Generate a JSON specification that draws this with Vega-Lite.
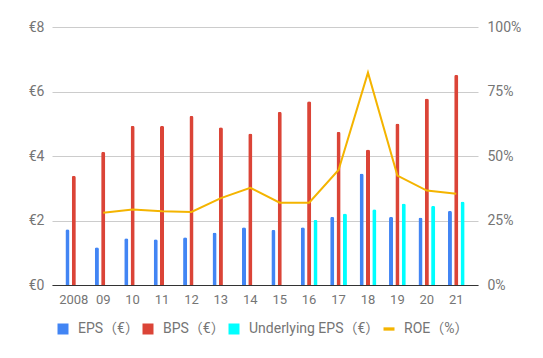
{
  "$schema": "https://vega.github.io/schema/vega-lite/v6.json",
  "width": 426,
  "height": 258,
  "autosize": {"type": "none"},
  "padding": {"left": 52, "top": 27, "right": 65, "bottom": 73},
  "config": {
    "view": {"stroke": null},
    "font": "Roboto",
    "axis": {"labelFont": "Roboto", "labelColor": "#757575", "labelFontSize": 14, "ticks": false, "domain": false, "gridColor": "#cccccc", "title": null}
  },
  "data": {"values": [
    {"year": "2008", "series": "EPS（€）", "value": 1.73},
    {"year": "2008", "series": "BPS（€）", "value": 3.39},
    {"year": "09", "series": "EPS（€）", "value": 1.17},
    {"year": "09", "series": "BPS（€）", "value": 4.13},
    {"year": "09", "series": "ROE（%）", "value": 28.0},
    {"year": "10", "series": "EPS（€）", "value": 1.45},
    {"year": "10", "series": "BPS（€）", "value": 4.94},
    {"year": "10", "series": "ROE（%）", "value": 29.3},
    {"year": "11", "series": "EPS（€）", "value": 1.42},
    {"year": "11", "series": "BPS（€）", "value": 4.94},
    {"year": "11", "series": "ROE（%）", "value": 28.6},
    {"year": "12", "series": "EPS（€）", "value": 1.48},
    {"year": "12", "series": "BPS（€）", "value": 5.25},
    {"year": "12", "series": "ROE（%）", "value": 28.3},
    {"year": "13", "series": "EPS（€）", "value": 1.63},
    {"year": "13", "series": "BPS（€）", "value": 4.89},
    {"year": "13", "series": "ROE（%）", "value": 33.7},
    {"year": "14", "series": "EPS（€）", "value": 1.79},
    {"year": "14", "series": "BPS（€）", "value": 4.70},
    {"year": "14", "series": "ROE（%）", "value": 37.7},
    {"year": "15", "series": "EPS（€）", "value": 1.71},
    {"year": "15", "series": "BPS（€）", "value": 5.37},
    {"year": "15", "series": "ROE（%）", "value": 31.9},
    {"year": "16", "series": "EPS（€）", "value": 1.79},
    {"year": "16", "series": "BPS（€）", "value": 5.70},
    {"year": "16", "series": "Underlying EPS（€）", "value": 2.02},
    {"year": "16", "series": "ROE（%）", "value": 31.9},
    {"year": "17", "series": "EPS（€）", "value": 2.12},
    {"year": "17", "series": "BPS（€）", "value": 4.75},
    {"year": "17", "series": "Underlying EPS（€）", "value": 2.22},
    {"year": "17", "series": "ROE（%）", "value": 44.6},
    {"year": "18", "series": "EPS（€）", "value": 3.46},
    {"year": "18", "series": "BPS（€）", "value": 4.20},
    {"year": "18", "series": "Underlying EPS（€）", "value": 2.35},
    {"year": "18", "series": "ROE（%）", "value": 82.3},
    {"year": "19", "series": "EPS（€）", "value": 2.12},
    {"year": "19", "series": "BPS（€）", "value": 5.01},
    {"year": "19", "series": "Underlying EPS（€）", "value": 2.53},
    {"year": "19", "series": "ROE（%）", "value": 42.4},
    {"year": "20", "series": "EPS（€）", "value": 2.09},
    {"year": "20", "series": "BPS（€）", "value": 5.78},
    {"year": "20", "series": "Underlying EPS（€）", "value": 2.46},
    {"year": "20", "series": "ROE（%）", "value": 36.6},
    {"year": "21", "series": "EPS（€）", "value": 2.30},
    {"year": "21", "series": "BPS（€）", "value": 6.52},
    {"year": "21", "series": "Underlying EPS（€）", "value": 2.59},
    {"year": "21", "series": "ROE（%）", "value": 35.4}
  ]},
  "encoding": {
    "x": {
      "field": "year", "type": "nominal",
      "scale": {"domain": ["2008","09","10","11","12","13","14","15","16","17","18","19","20","21"], "paddingInner": 0, "paddingOuter": 0.24},
      "axis": {"labelAngle": 0, "domain": true, "domainColor": "#333333", "labelPadding": 8, "labelFontSize": 13, "grid": false}
    }
  },
  "layer": [
    {
      "transform": [{"filter": "datum.series !== 'ROE（%）'"}],
      "mark": {"type": "bar", "cornerRadiusTopLeft": 2, "cornerRadiusTopRight": 2},
      "encoding": {
        "xOffset": {"field": "series", "type": "nominal", "scale": {"domain": ["EPS（€）", "BPS（€）", "Underlying EPS（€）"], "paddingInner": 0.355, "paddingOuter": 1.05}},
        "y": {"field": "value", "type": "quantitative", "scale": {"domain": [0, 8]}, "axis": {"values": [0, 2, 4, 6, 8], "labelExpr": "'€' + datum.value", "grid": true, "labelPadding": 8}},
        "color": {
          "field": "series", "type": "nominal",
          "scale": {"domain": ["EPS（€）", "BPS（€）", "Underlying EPS（€）", "ROE（%）"], "range": ["#4285F4", "#DB4437", "#00FFFF", "#F4B400"]},
          "legend": {
            "orient": "none", "legendX": 4, "legendY": 295, "direction": "horizontal", "title": null,
            "symbolType": "square", "symbolSize": 121, "symbolStrokeWidth": 0, "symbolOpacity": 1,
            "labelFont": "Roboto, 'Noto Sans CJK JP'", "labelFontSize": 14, "labelColor": "#757575", "labelOffset": 8, "columnPadding": 2,
            "encode": {"symbols": {"update": {"shape": {"signal": "datum.value === 'ROE（%）' ? 'M-1,-0.3H1V0.3H-1Z' : 'square'"}}}}
          }
        }
      }
    },
    {
      "transform": [{"filter": "datum.series === 'ROE（%）'"}],
      "mark": {"type": "line", "color": "#F4B400", "strokeWidth": 2},
      "encoding": {
        "y": {"field": "value", "type": "quantitative", "scale": {"domain": [0, 100]}, "axis": {"orient": "right", "values": [0, 25, 50, 75, 100], "labelExpr": "datum.value + '%'", "grid": false, "labelPadding": 9}}
      }
    }
  ],
  "resolve": {"scale": {"y": "independent"}}
}
